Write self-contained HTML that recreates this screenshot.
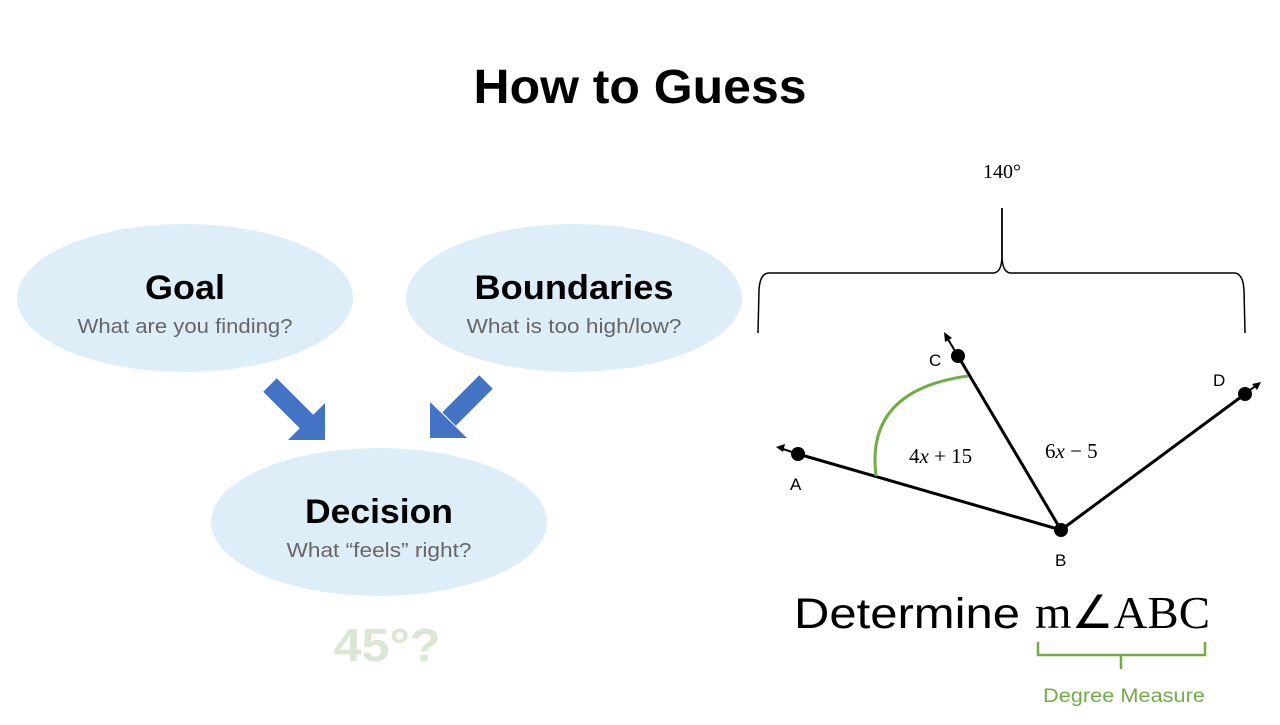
<!DOCTYPE html>
<html><head><meta charset="utf-8"><style>
body{margin:0;width:1280px;height:720px;background:#fff;overflow:hidden;font-family:"Liberation Sans",sans-serif}
</style></head><body>
<svg width="1280" height="720" viewBox="0 0 1280 720" xmlns="http://www.w3.org/2000/svg">
<text x="640" y="103" text-anchor="middle" font-family="Liberation Sans" font-weight="bold" font-size="48" textLength="333" lengthAdjust="spacingAndGlyphs">How to Guess</text>
<ellipse cx="185" cy="298" rx="168" ry="74" fill="#deeef9"/>
<ellipse cx="574" cy="298" rx="168" ry="74" fill="#deeef9"/>
<ellipse cx="379" cy="522" rx="168" ry="74" fill="#deeef9"/>
<text x="185" y="299" text-anchor="middle" font-weight="bold" font-size="34" textLength="80" lengthAdjust="spacingAndGlyphs">Goal</text>
<text x="185" y="333" text-anchor="middle" font-size="20" fill="#666" textLength="215" lengthAdjust="spacingAndGlyphs">What are you finding?</text>
<text x="574" y="299" text-anchor="middle" font-weight="bold" font-size="34" textLength="199" lengthAdjust="spacingAndGlyphs">Boundaries</text>
<text x="574" y="333" text-anchor="middle" font-size="20" fill="#666" textLength="215" lengthAdjust="spacingAndGlyphs">What is too high/low?</text>
<text x="379" y="523" text-anchor="middle" font-weight="bold" font-size="34" textLength="148" lengthAdjust="spacingAndGlyphs">Decision</text>
<text x="379" y="557" text-anchor="middle" font-size="20" fill="#666" textLength="185" lengthAdjust="spacingAndGlyphs">What “feels” right?</text>
<text x="387" y="661" text-anchor="middle" font-weight="bold" font-size="46" fill="#dce6d6" textLength="107" lengthAdjust="spacingAndGlyphs">45°?</text>
<line x1="270" y1="385" x2="307" y2="422" stroke="#4472c4" stroke-width="19"/>
<polygon points="325,403 325,440 288,440" fill="#4472c4"/>
<line x1="486" y1="382" x2="449" y2="419" stroke="#4472c4" stroke-width="19"/>
<polygon points="430,402 430,438 467,438" fill="#4472c4"/>
<text x="1002" y="178" text-anchor="middle" font-family="Liberation Serif" font-size="20">140°</text>
<path d="M1002,208 L1002,255 Q1002,273 993,273 L769,273 Q760,273 759,290 L758,333" fill="none" stroke="#000" stroke-width="1.5"/>
<path d="M1002,208 L1002,255 Q1002,273 1011,273 L1234,273 Q1243,273 1244,290 L1245,333" fill="none" stroke="#000" stroke-width="1.5"/>
<g stroke="#000" stroke-width="3" fill="none">
<line x1="798" y1="454" x2="1061" y2="530"/>
<line x1="958" y1="356" x2="1061" y2="530"/>
<line x1="1061" y1="530" x2="1245" y2="394"/>
<line x1="798" y1="454" x2="780" y2="448" stroke-width="2"/>
<line x1="958" y1="356" x2="946" y2="336" stroke-width="2"/>
<line x1="1245" y1="394" x2="1258" y2="384" stroke-width="2"/>
</g>
<polygon points="776,447 785,444 783,452" fill="#000"/>
<polygon points="944,332 945,342 952,338" fill="#000"/>
<polygon points="1261,382 1252,384 1257,390" fill="#000"/>
<path d="M876,476 Q865,390 968,376" fill="none" stroke="#70ad47" stroke-width="3"/>
<g fill="#000"><circle cx="798" cy="454" r="7"/><circle cx="958" cy="356" r="7"/><circle cx="1061" cy="530" r="7"/><circle cx="1245" cy="394" r="7"/></g>
<g font-size="17"><text x="790" y="490">A</text><text x="929" y="366">C</text><text x="1213" y="386">D</text><text x="1055" y="566">B</text></g>
<text x="909" y="463" font-family="Liberation Serif" font-size="21">4<tspan font-style="italic">x</tspan> + 15</text>
<text x="1045" y="458" font-family="Liberation Serif" font-size="21">6<tspan font-style="italic">x</tspan> − 5</text>
<text x="794" y="628" font-size="43" textLength="226" lengthAdjust="spacingAndGlyphs">Determine</text>
<text x="1035" y="628" font-family="Liberation Serif" font-size="46" textLength="175" lengthAdjust="spacingAndGlyphs">m∠ABC</text>
<path d="M1038,642 L1038,655 L1205,655 L1205,642 M1121,655 L1121,669" fill="none" stroke="#70ad47" stroke-width="2.5"/>
<text x="1124" y="702" text-anchor="middle" font-size="19" fill="#70ad47" textLength="162" lengthAdjust="spacingAndGlyphs">Degree Measure</text>
</svg>
</body></html>
